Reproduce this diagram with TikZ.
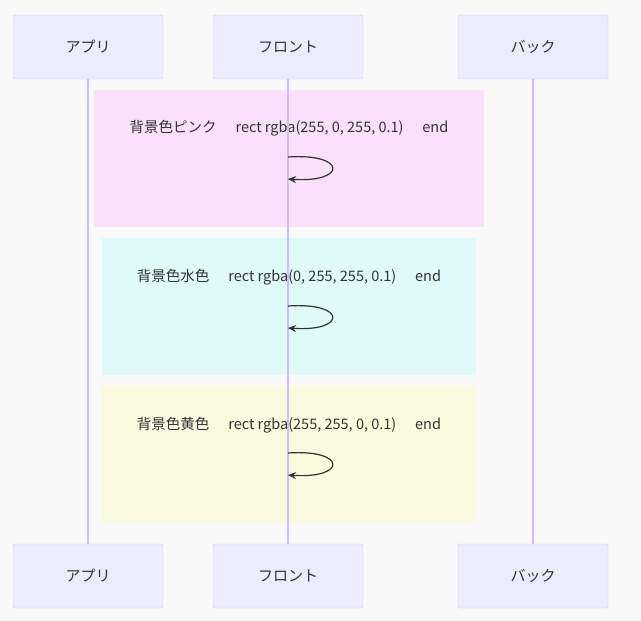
\documentclass[tikz,border=0pt]{standalone}
\usepackage{fontspec}
\setmainfont{Noto Sans CJK JP}
\usetikzlibrary{arrows.meta}
\definecolor{bg}{RGB}{249,249,249}
\definecolor{actfill}{RGB}{236,236,255}
\definecolor{actline}{RGB}{208,204,245}
\definecolor{life}{RGB}{205,190,240}
\definecolor{pinkbg}{RGB}{250,224,250}
\definecolor{cyanbg}{RGB}{224,250,250}
\definecolor{yelbg}{RGB}{250,250,224}
\definecolor{txt}{RGB}{51,51,51}
\tikzset{
 actor/.style={draw=actline,fill=actfill,minimum width=150pt,minimum height=64pt,inner sep=0pt,font=\fontsize{15}{17}\selectfont,text=txt,rounded corners=2pt},
 lifeline/.style={draw=life,line width=1.5pt},
 lbl/.style={font=\fontsize{14.5}{17}\selectfont,text=txt},
 msg/.style={draw=txt,line width=1.2pt,-{Stealth[length=8pt,width=7pt]}}
}
\begin{document}
\begin{tikzpicture}[x=1pt,y=-1pt]
\fill[bg] (0,0) rectangle (641,621);
\useasboundingbox (0,0) rectangle (641,621);
\fill[pinkbg] (94,90) rectangle (484,227);
\fill[cyanbg] (102,238) rectangle (476,375);
\fill[yelbg] (102,386) rectangle (476,522);
\node[lbl] (t1) at (289,128) {背景色ピンク\hspace{1.3em}rect rgba(255, 0, 255, 0.1)\hspace{1.3em}end};
\node[lbl] (t2) at (289,277) {背景色水色\hspace{1.3em}rect rgba(0, 255, 255, 0.1)\hspace{1.3em}end};
\node[lbl] (t3) at (289,425) {背景色黄色\hspace{1.3em}rect rgba(255, 255, 0, 0.1)\hspace{1.3em}end};
\node[actor] (a1) at (88,47) {アプリ};
\node[actor] (f1) at (288,47) {フロント};
\node[actor] (b1) at (533,47) {バック};
\node[actor] (a2) at (88,576) {アプリ};
\node[actor] (f2) at (288,576) {フロント};
\node[actor] (b2) at (533,576) {バック};
\draw[lifeline] (a1.south) -- (a2.north);
\draw[lifeline] (f1.south) -- (f2.north);
\draw[lifeline] (b1.south) -- (b2.north);
\foreach \y/\n in {157/s1,306/s2,453/s3}{
 \coordinate (\n a) at (288,\y);
 \coordinate (\n b) at (288,\y+22);
 \draw[msg] (\n a) .. controls (347,\y-4) and (347,\y+26) .. (\n b);
}
\end{tikzpicture}
\end{document}
